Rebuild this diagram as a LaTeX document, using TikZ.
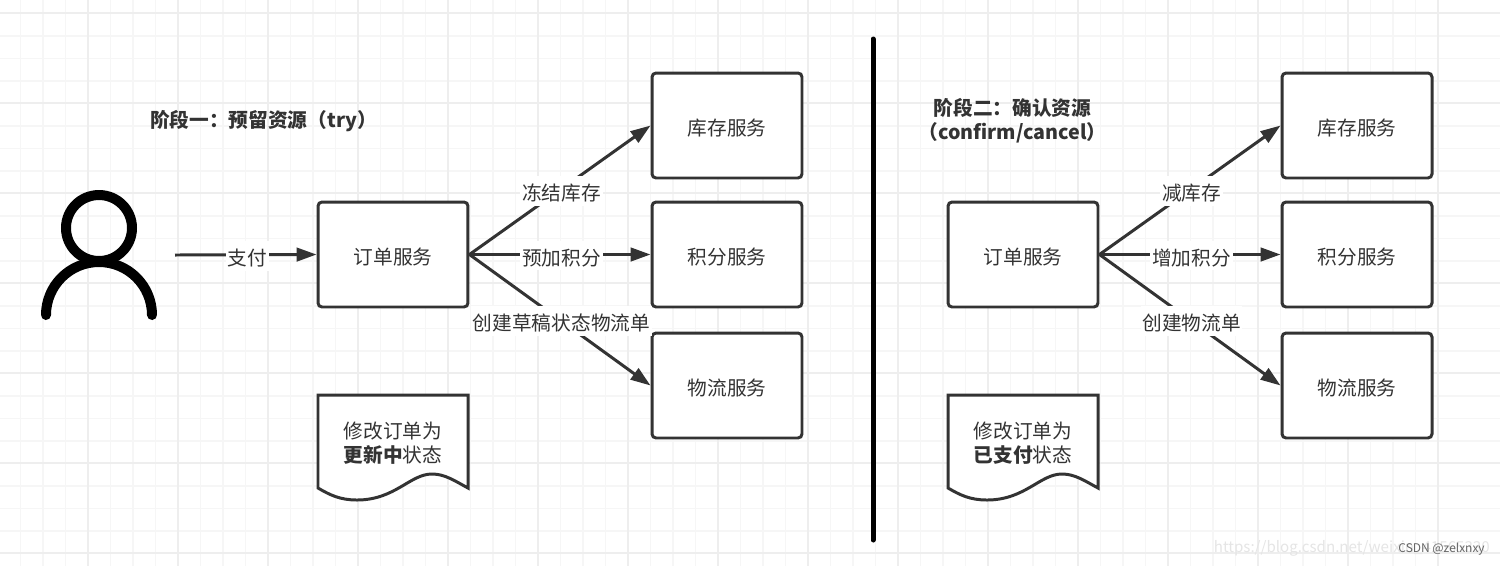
\documentclass[tikz,border=0pt]{standalone}
\usepackage{fontspec}
\setmainfont{Noto Sans CJK SC}
\usepackage{tikz}
\usetikzlibrary{arrows.meta}
\definecolor{inkgray}{HTML}{333333}
\definecolor{gridminor}{HTML}{F6F6F6}
\definecolor{gridmajor}{HTML}{EEEEEE}
\tikzset{
    service/.style={draw=inkgray, line width=1.7pt, rounded corners=0.08cm, fill=white,
        minimum width=3cm, minimum height=2.1cm, inner sep=0pt, text=inkgray,
        text height=0.4cm, text depth=0.02cm},
    flow/.style={draw=inkgray, line width=1.7pt, -{Triangle[length=0.4cm,width=0.27cm]}},
    flowlabel/.style={fill=white, inner xsep=1pt, inner ysep=2.5pt, text=inkgray,
        text height=0.4cm, text depth=0.02cm, xshift=0.03cm, yshift=-0.02cm},
    title/.style={inner sep=0pt, text=inkgray, font=\fontsize{11.2}{13.5}\selectfont\bfseries, align=center},
    docpage/.style={draw=inkgray, line width=1.7pt, fill=white},
    doctext/.style={inner sep=0pt, text=inkgray, align=center},
    iconline/.style={draw=black, line width=0.2cm, line cap=round}
}
\begin{document}
\begin{tikzpicture}[x=0.02cm, y=0.02cm, font=\fontsize{11.2}{13.5}\selectfont]
    \useasboundingbox (0,0) rectangle (1500,-566);
    \fill [white] (0,0) rectangle (1500,-566);
    % grid
    \foreach \i in {-3,...,63} \draw [gridminor, line width=0.75pt] ({20.5+22.5*\i},0) -- ({20.5+22.5*\i},-566);
    \foreach \i in {0,...,25} \draw [gridminor, line width=0.75pt] (0,{-13.5-22.5*\i}) -- (1500,{-13.5-22.5*\i});
    \foreach \i in {0,...,16} \draw [gridmajor, line width=0.75pt] ({88+90*\i},0) -- ({88+90*\i},-566);
    \foreach \i in {0,...,6} \draw [gridmajor, line width=0.75pt] (0,{-13-90*\i}) -- (1500,{-13-90*\i});
    % user
    \draw [iconline] (99,-228) circle (33);
    \draw [iconline] (46,-315) arc (180:0:53);
    % divider
    \coordinate (dividertop) at (873,-39);
    \coordinate (dividerbottom) at (873,-540);
    \draw [black, line width=0.1cm, line cap=round] (dividertop) -- (dividerbottom);
    % phase one
    \node [title] (titleone) at (258.5,-121) [xshift=0.1cm] {阶段一：预留资源（try）};
    \coordinate (payer) at (175,-255);
    \node [service] (orderone) at (393,-254.5) {订单服务};
    \node [service] (stockone) at (727,-125.5) {库存服务};
    \node [service] (pointsone) at (727,-254.5) {积分服务};
    \node [service] (shipone) at (727,-385.5) {物流服务};
    \draw [flow] (payer) -- (orderone.west) node [flowlabel, pos=0.5] (pay) {支付};
    \draw [flow] (orderone.east) -- (stockone.west) node [flowlabel, midway] (freeze) {冻结库存};
    \draw [flow] (orderone.east) -- (pointsone.west) node [flowlabel, midway] (prepoints) {预加积分};
    \draw [flow] (orderone.east) -- (shipone.west) node [flowlabel, midway] (draftship) {创建草稿状态物流单};
    \draw [docpage] (318,-395) -- (468,-395) -- (468,-488) .. controls (455,-481) and (445,-474) .. (432,-474) .. controls (410,-474) and (395,-500) .. (357,-500) .. controls (340,-500) and (330,-495) .. (318,-488) -- cycle;
    \node [doctext] (noteone) at (393,-443) {修改订单为\\\textbf{更新中}状态};
    % phase two
    \node [title] (titletwo) at (1012.5,-121) {阶段二：确认资源\\（confirm/cancel）};
    \node [service] (ordertwo) at (1023,-254.5) {订单服务};
    \node [service] (stocktwo) at (1357,-125.5) {库存服务};
    \node [service] (pointstwo) at (1357,-254.5) {积分服务};
    \node [service] (shiptwo) at (1357,-385.5) {物流服务};
    \draw [flow] (ordertwo.east) -- (stocktwo.west) node [flowlabel, midway] (reduce) {减库存};
    \draw [flow] (ordertwo.east) -- (pointstwo.west) node [flowlabel, midway] (addpoints) {增加积分};
    \draw [flow] (ordertwo.east) -- (shiptwo.west) node [flowlabel, midway] (makeship) {创建物流单};
    \draw [docpage] (948,-395) -- (1098,-395) -- (1098,-488) .. controls (1085,-481) and (1075,-474) .. (1062,-474) .. controls (1040,-474) and (1025,-500) .. (987,-500) .. controls (970,-500) and (960,-495) .. (948,-488) -- cycle;
    \node [doctext] (notetwo) at (1023,-443) {修改订单为\\\textbf{已支付}状态};
    % watermarks
    \node [inner sep=0pt, text=black!10, font=\fontsize{8.6}{10}\selectfont, anchor=east] (blogmark) at (1490,-548) {https://blog.csdn.net/weixin\_41565330};
    \node [inner sep=0pt, text=black!60, font=\fontsize{6.8}{8}\selectfont, anchor=east] (csdnmark) at (1485,-549) {CSDN @zelxnxy};
\end{tikzpicture}
\end{document}
